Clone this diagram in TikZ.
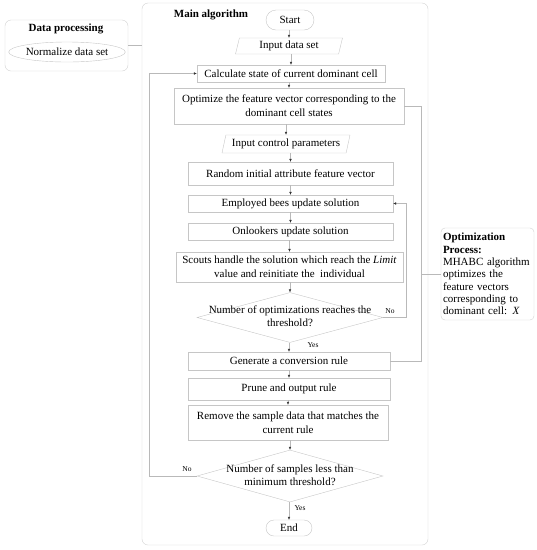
\documentclass[tikz,border=0pt]{standalone}
\usepackage{fontspec}
\setmainfont{Liberation Serif}
\usetikzlibrary{positioning,shapes.geometric,shapes.misc,arrows.meta}

\newcommand{\qtext}[1]{\makebox[0pt]{\begin{tabular}{@{}c@{}}#1\end{tabular}}}

\tikzset{
  stepbox/.style={draw=gray!45, rectangle, align=center, inner sep=1pt, font=\fontsize{11}{14}\selectfont},
  iobox/.style={draw=gray!45, trapezium, trapezium left angle=72, trapezium right angle=108,
    trapezium stretches body, inner sep=1pt, font=\fontsize{11}{14}\selectfont},
  termbox/.style={draw=gray!45, rounded rectangle, inner sep=1pt, font=\fontsize{11}{14}\selectfont},
  decbox/.style={draw=gray!45, diamond, inner sep=0pt, font=\fontsize{11}{13}\selectfont},
  panel/.style={draw=gray!35, rounded corners=6pt},
  flow/.style={draw=gray!55, -{Latex[length=3pt,width=2.6pt,color=black!80]}},
  link/.style={draw=gray!55},
  tag/.style={font=\fontsize{7.5}{9}\selectfont}
}

\begin{document}
\begin{tikzpicture}[x=1pt,y=-1pt]
        \useasboundingbox (0,0) rectangle (537,550);
        % panels
        \node[panel, minimum width=286pt, minimum height=542pt] (main) at (285,274) {};
        \node[font=\fontsize{11}{13}\selectfont\bfseries] (mainlbl) at (211,15) {Main algorithm};
        \node[panel, minimum width=123pt, minimum height=51pt] (dp) at (66.5,45.5) {};
        \node[font=\fontsize{11}{13}\selectfont\bfseries] (dplbl) at (66,29) {Data processing};
        \node[draw=gray!45, ellipse, inner sep=0pt, minimum width=98pt, minimum height=20pt,
              font=\fontsize{11}{13}\selectfont] (norm) at (67,52) {Normalize data set};
        \node[panel, rounded corners=4pt, align=left, text width=89pt, inner sep=2pt,
              minimum height=92pt, font=\fontsize{11}{12.3}\selectfont] (optbox) at (487.5,274)
              {\textbf{Optimization}\\ \textbf{Process:}\\ MHABC algorithm\\ optimizes the\\
               feature vectors\\ corresponding to\\ dominant cell: \textit{X}};
        % flow
        \node[termbox, minimum width=50pt, minimum height=20pt] (start) at (290,20) {Start};
        \node[iobox, minimum width=107pt, minimum height=16pt] (in1) at (289,46) {Input data set};
        \node[stepbox, minimum width=188pt, minimum height=17pt] (calc) at (291,73.5) {Calculate state of current dominant cell};
        \node[stepbox, minimum width=230pt, minimum height=36pt] (opt) at (289,106)
              {Optimize the feature vector corresponding to the\\ dominant cell states};
        \node[iobox, minimum width=128pt, minimum height=18pt] (in2) at (286,144) {Input control parameters};
        \node[stepbox, minimum width=205pt, minimum height=23pt] (rand) at (290.5,173.5) {Random initial attribute feature vector};
        \node[stepbox, minimum width=205pt, minimum height=17pt] (emp) at (290.5,203.5) {Employed bees update solution};
        \node[stepbox, minimum width=205pt, minimum height=17pt] (onl) at (290.5,231.5) {Onlookers update solution};
        \node[stepbox, minimum width=227pt, minimum height=30pt] (scout) at (289.5,267)
              {Scouts handle the solution which reach the \textit{Limit}\\ value and reinitiate the\ \ individual};
        \node[decbox, minimum width=186pt, minimum height=50pt] (q1) at (290,317.5)
              {\qtext{Number of optimizations reaches the\\ threshold?}};
        \node[stepbox, minimum width=202pt, minimum height=18pt] (gen) at (289,361) {Generate a conversion rule};
        \node[stepbox, minimum width=202pt, minimum height=22pt] (prune) at (289,389) {Prune and output rule};
        \node[stepbox, minimum width=200pt, minimum height=35pt] (rem) at (288,422.5)
              {Remove the sample data that matches the\\ current rule};
        \node[decbox, minimum width=186pt, minimum height=52pt] (q2) at (290,476)
              {\qtext{Number of samples less than\\ minimum threshold?}};
        \node[termbox, minimum width=48pt, minimum height=16pt] (fin) at (289,528) {End};
        % arrows
        \foreach \a/\b in {start/in1, in1/calc, calc/opt, opt/in2, in2/rand, rand/emp, emp/onl,
                           onl/scout, scout/q1, q1/gen, gen/prune, prune/rem, rem/q2, q2/fin} {
            \draw[flow] (\a.south -| \b.north) -- (\b.north);
        }
        \draw[flow] (q1.east) -- ++(23,0) |- (emp.east);
        \draw[flow] (q2.west) -- ++(-48,0) |- (calc.west);
        \draw[link] (opt.east) -- ++(17,0) |- (gen.east);
        \coordinate (brk) at (421,274);
        \draw[link] (brk) -- (optbox.west);
        \draw[link] (dp.east) -- (dp.east -| main.west);
        % labels
        \node[tag] (no1) at (390,311) {No};
        \node[tag] (yes1) at (313,345) {Yes};
        \node[tag] (no2) at (187,469) {No};
        \node[tag] (yes2) at (300,508) {Yes};
    \end{tikzpicture}
\end{document}
